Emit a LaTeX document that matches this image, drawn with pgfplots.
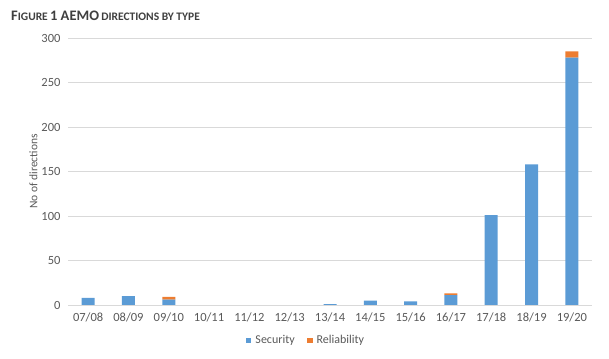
\documentclass[border=0pt]{standalone}
\usepackage{pgfplots}
\pgfplotsset{compat=1.18}
\usepackage{fontspec}
\setmainfont{Carlito}
\definecolor{secblue}{HTML}{5B9BD5}
\definecolor{relorange}{HTML}{ED7D31}
\definecolor{tickgray}{HTML}{595959}
\definecolor{gridgray}{HTML}{D9D9D9}
\definecolor{titlegray}{HTML}{3F3F3F}
\begin{document}
\begin{tikzpicture}
\useasboundingbox (0,0) rectangle (609pt,358pt);
\node[anchor=base west, text=titlegray, font=\bfseries, inner sep=0pt] at (11pt,337pt)
  {{\fontsize{14.5}{16}\selectfont F}{\fontsize{11.5}{13}\selectfont IGURE} {\fontsize{14.5}{16}\selectfont 1 AEMO} {\fontsize{11.5}{13}\selectfont DIRECTIONS BY TYPE}};
\begin{axis}[
  at={(68pt,53pt)}, anchor=south west,
  scale only axis, width=524pt, height=267pt,
  ybar stacked, bar width=13pt,
  xmin=-0.5, xmax=12.5, ymin=0, ymax=300,
  xtick=data,
  xticklabels={07/08,08/09,09/10,10/11,11/12,12/13,13/14,14/15,15/16,16/17,17/18,18/19,19/20},
  ytick={0,50,...,300},
  ymajorgrids, grid style={gridgray, line width=0.6pt},
  axis x line*=bottom, axis y line*=left,
  y axis line style={draw=none},
  x axis line style={gridgray, line width=0.6pt},
  major tick length=0pt,
  tick label style={font=\fontsize{12.5}{14}\selectfont, text=tickgray},
  /pgf/number format/assume math mode=true,
  xticklabel style={yshift=-4pt},
  yticklabel style={xshift=-4pt},
  ylabel={No of directions},
  ylabel style={font=\fontsize{11.5}{13}\selectfont, text=tickgray, at={(axis description cs:-0.066,0.5)}, anchor=center},
  legend style={at={(axis description cs:0.454,-0.133)}, anchor=center, draw=none, fill=none,
    font=\fontsize{12}{14}\selectfont, text=tickgray, legend columns=2,
    /tikz/every even column/.append style={column sep=10pt},
    /tikz/every odd column/.append style={column sep=2pt}},
  legend cell align=left,
  legend image code/.code={\fill[#1] (0pt,-2.8pt) rectangle (5.8pt,3pt);},
]
\addplot[fill=secblue, draw=none] coordinates {
 (0,8) (1,10) (2,6) (3,0) (4,0) (5,0) (6,1) (7,5) (8,4) (9,11) (10,101) (11,158) (12,278)};
\addplot[fill=relorange, draw=none] coordinates {
 (0,0) (1,0) (2,3) (3,0) (4,0) (5,0) (6,0) (7,0) (8,0) (9,2) (10,0) (11,0) (12,7)};
\legend{Security,Reliability}
\end{axis}
\end{tikzpicture}
\end{document}
